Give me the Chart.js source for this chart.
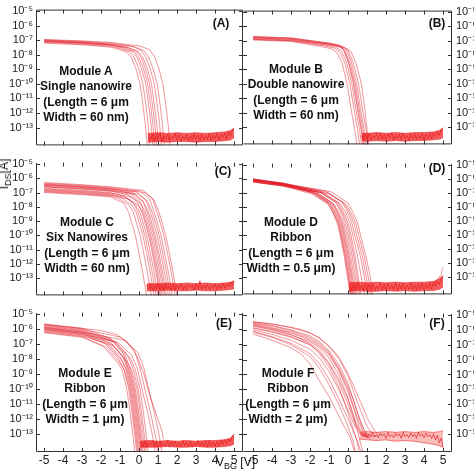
<!DOCTYPE html>
<html><head><meta charset="utf-8">
<script src="https://cdn.jsdelivr.net/npm/chart.js@4.4.1/dist/chart.umd.min.js"></script>
<style>
html,body{margin:0;padding:0;background:#fff;}
#wrap{position:relative;width:474px;height:474px;overflow:hidden;font-family:"Liberation Sans",Arial,sans-serif;color:#111;}
canvas{position:absolute;}
.mod{position:absolute;width:140px;text-align:center;font-weight:bold;font-size:12px;line-height:15.3px;white-space:nowrap;}
.tag{position:absolute;width:30px;text-align:center;font-weight:bold;font-size:12px;line-height:14px;}
.ttl{position:absolute;font-size:12px;line-height:14px;white-space:nowrap;}
.ttl sub{font-size:9px;vertical-align:-3px;line-height:0;}
</style></head><body><div id="wrap">
<canvas id="cA" width="244" height="155" style="left:0;top:0"></canvas>
<canvas id="cB" width="232" height="155" style="left:242px;top:0"></canvas>
<canvas id="cC" width="244" height="152" style="left:0;top:153px"></canvas>
<canvas id="cD" width="232" height="152" style="left:242px;top:153px"></canvas>
<canvas id="cE" width="244" height="171" style="left:0;top:303px"></canvas>
<canvas id="cF" width="232" height="171" style="left:242px;top:303px"></canvas>

<div class="tag" style="left:206px;top:16px">(A)</div>
<div class="tag" style="left:422px;top:16px">(B)</div>
<div class="tag" style="left:208px;top:164px">(C)</div>
<div class="tag" style="left:422px;top:161px">(D)</div>
<div class="tag" style="left:209px;top:316px">(E)</div>
<div class="tag" style="left:422px;top:316px">(F)</div>

<div class="mod" style="left:16px;top:64px">Module A<br>Single nanowire<br>(Length = 6 μm<br>Width = 60 nm)</div>
<div class="mod" style="left:226px;top:62px">Module B<br>Double nanowire<br>(Length = 6 μm<br>Width = 60 nm)</div>
<div class="mod" style="left:17px;top:215px">Module C<br>Six Nanowires<br>(Length = 6 μm<br>Width = 60 nm)</div>
<div class="mod" style="left:221px;top:215px">Module D<br>Ribbon<br>(Length = 6 μm<br>Width = 0.5 μm)</div>
<div class="mod" style="left:15px;top:366px">Module E<br>Ribbon<br>(Length = 6 μm<br>Width = 1 μm)</div>
<div class="mod" style="left:218px;top:366px">Module F<br>Ribbon<br>(Length = 6 μm<br>Width = 2 μm)</div>

<div class="ttl" style="left:4px;top:174px;transform:translate(-50%,-50%) rotate(-90deg);">I<sub>DS</sub>[A]</div>
<div class="ttl" style="left:216px;top:455px;">V<sub>BG</sub> [V]</div>
</div>
<script>
// ---------- data (V in volts, log10 of I_DS in A) ----------
const xTicks = [-5,-4,-3,-2,-1,0,1,2,3,4,5];
const yTickExps = [-5,-6,-7,-8,-9,-10,-11,-12,-13];
const noiseV = [0,0.1,0.2,0.3,0.4,0.5,0.6,0.7,0.8,0.9,1,1.1,1.2,1.3,1.4,1.5,1.6,1.7,1.8,1.9,2,2.1,2.2,2.3,2.4,2.5,2.6,2.7,2.8,2.9,3,3.1,3.2,3.3,3.4,3.5,3.6,3.7,3.8,3.9,4,4.1,4.2,4.3,4.4,4.5,4.6,4.7,4.8,4.9,5];

const curvesA = [
 [[-5,-7.2],[-3,-7.32],[-1.5,-7.48],[-1.15,-7.6],[-0.65,-7.8],[-0.4,-8.2],[-0.17,-8.95],[0.05,-10],[0.2,-11.4],[0.33,-12.8],[0.43,-14.3]],
 [[-5,-7.15],[-3,-7.27],[-1.5,-7.42],[-1,-7.58],[-0.5,-7.8],[-0.25,-8.2],[-0.02,-8.95],[0.2,-10],[0.35,-11.4],[0.48,-12.8],[0.58,-14.3]],
 [[-5,-7.1],[-3,-7.22],[-1.5,-7.36],[-0.85,-7.55],[-0.35,-7.78],[-0.1,-8.2],[0.13,-8.95],[0.35,-10],[0.5,-11.4],[0.63,-12.8],[0.73,-14.3]],
 [[-5,-7.05],[-3,-7.17],[-1.5,-7.32],[-0.75,-7.52],[-0.25,-7.78],[0,-8.2],[0.23,-8.95],[0.45,-10],[0.6,-11.4],[0.73,-12.8],[0.83,-14.3]],
 [[-5,-7.0],[-3,-7.12],[-1.5,-7.27],[-0.65,-7.48],[-0.15,-7.75],[0.1,-8.15],[0.33,-8.95],[0.55,-10],[0.7,-11.4],[0.83,-12.8],[0.93,-14.3]],
 [[-5,-7.1],[-3,-7.2],[-1.5,-7.33],[-0.55,-7.52],[-0.05,-7.78],[0.2,-8.2],[0.43,-8.95],[0.65,-10],[0.8,-11.4],[0.93,-12.8],[1.03,-14.3]],
 [[-5,-6.98],[-3,-7.08],[-1.5,-7.2],[-0.4,-7.4],[0.1,-7.7],[0.35,-8.15],[0.58,-8.95],[0.8,-10],[0.95,-11.4],[1.08,-12.8],[1.18,-14.3]],
 [[-5,-7.05],[-3,-7.15],[-1.5,-7.27],[-0.25,-7.45],[0.25,-7.72],[0.5,-8.15],[0.73,-8.95],[0.95,-10],[1.1,-11.4],[1.23,-12.8],[1.33,-14.3]],
 [[-5,-6.95],[-3,-7.05],[-1.5,-7.15],[0.05,-7.4],[0.55,-7.65],[0.8,-8.1],[1.03,-8.9],[1.25,-10],[1.4,-11.4],[1.53,-12.8],[1.63,-14.3]]
];
const bandA_V  = [0.45,1,1.5,2,2.5,3,3.5,4,4.5,4.8,5];
const bandA_hi = [-13.4,-13.35,-13.4,-13.35,-13.4,-13.35,-13.4,-13.35,-13.3,-13.2,-13.05];
const bandA_lo = [-14.0,-13.95,-14.0,-13.95,-13.95,-14.0,-13.95,-13.95,-13.9,-13.85,-13.7];
const noiseA = [null,null,null,null,null,-13.5,-13.85,-13.45,-13.9,-13.6,-13.8,-13.4,-13.95,-13.55,-13.8,-13.45,-13.9,-13.6,-13.75,-13.4,-13.85,-13.5,-13.95,-13.6,-13.8,-13.45,-13.9,-13.55,-13.85,-13.4,-13.8,-13.5,-13.9,-13.45,-13.85,-13.55,-13.8,-13.4,-13.9,-13.5,-13.75,-13.4,-13.85,-13.45,-13.7,-13.35,-13.8,-13.3,-13.6,-13.2,-13.1];

const curvesB = [
 [[-5,-6.95],[-3,-7.05],[-1.45,-7.4],[-0.9,-7.55],[-0.6,-7.8],[-0.32,-8.55],[-0.05,-10],[0.15,-11.7],[0.35,-13.2],[0.47,-14.3]],
 [[-5,-6.9],[-3,-7.0],[-1.3,-7.35],[-0.75,-7.5],[-0.45,-7.75],[-0.17,-8.55],[0.1,-10],[0.3,-11.7],[0.5,-13.2],[0.62,-14.3]],
 [[-5,-6.85],[-3,-6.95],[-1.2,-7.3],[-0.65,-7.45],[-0.35,-7.7],[-0.07,-8.55],[0.2,-10],[0.4,-11.7],[0.6,-13.2],[0.72,-14.3]],
 [[-5,-6.7],[-3,-6.8],[-1.12,-7.15],[-0.57,-7.3],[-0.27,-7.55],[0.01,-8.5],[0.28,-10],[0.48,-11.7],[0.68,-13.2],[0.8,-14.3]],
 [[-5,-6.75],[-3,-6.85],[-1.08,-7.2],[-0.53,-7.35],[-0.23,-7.6],[0.05,-8.55],[0.32,-10],[0.52,-11.7],[0.72,-13.2],[0.84,-14.3]],
 [[-5,-6.8],[-3,-6.9],[-1.02,-7.25],[-0.47,-7.4],[-0.17,-7.65],[0.11,-8.55],[0.38,-10],[0.58,-11.7],[0.78,-13.2],[0.9,-14.3]],
 [[-5,-6.72],[-3,-6.82],[-0.95,-7.17],[-0.4,-7.32],[-0.1,-7.57],[0.18,-8.5],[0.45,-10],[0.65,-11.7],[0.85,-13.2],[0.97,-14.3]],
 [[-5,-6.8],[-3,-6.9],[-0.85,-7.25],[-0.3,-7.4],[0,-7.65],[0.28,-8.55],[0.55,-10],[0.75,-11.7],[0.95,-13.2],[1.07,-14.3]],
 [[-5,-6.9],[-3,-7.0],[-0.7,-7.35],[-0.15,-7.5],[0.15,-7.75],[0.43,-8.6],[0.7,-10],[0.88,-11.7],[1.0,-13.2],[1.08,-14.3]]
];
const bandB_V  = [0.72,1,1.5,2,2.5,3,3.5,4,4.5,4.8,5];
const bandB_hi = [-13.45,-13.45,-13.4,-13.45,-13.4,-13.45,-13.4,-13.4,-13.35,-13.25,-13.1];
const bandB_lo = [-13.95,-14.0,-13.95,-14.0,-13.95,-14.0,-13.95,-13.95,-13.9,-13.85,-13.75];
const noiseB = [null,null,null,null,null,null,null,-13.6,-13.9,-13.5,-13.85,-13.45,-13.95,-13.6,-13.8,-13.5,-13.9,-13.45,-13.85,-13.55,-13.9,-13.5,-13.8,-13.4,-13.95,-13.55,-13.85,-13.5,-13.9,-13.45,-13.8,-13.6,-13.9,-13.5,-13.85,-13.45,-13.9,-13.55,-13.8,-13.45,-13.9,-13.5,-13.8,-13.4,-13.85,-13.4,-13.7,-13.3,-13.6,-13.2,-13.05];

const curvesC = [
 [[-5,-7.0],[-3,-7.15],[-1.5,-7.3],[-1.3,-7.45],[-0.8,-7.75],[-0.55,-8.4],[-0.35,-9.3],[-0.2,-10],[0,-11.3],[0.2,-12.7],[0.4,-14.3]],
 [[-5,-6.95],[-3,-7.1],[-1.5,-7.25],[-1.05,-7.45],[-0.55,-7.85],[-0.3,-8.4],[-0.1,-9.3],[0.05,-10],[0.25,-11.3],[0.45,-12.7],[0.65,-14.3]],
 [[-5,-6.85],[-3,-7.0],[-1.5,-7.15],[-0.9,-7.4],[-0.4,-7.85],[-0.15,-8.4],[0.05,-9.3],[0.2,-10],[0.4,-11.3],[0.6,-12.7],[0.8,-14.3]],
 [[-5,-6.7],[-3,-6.85],[-1.5,-7.0],[-0.8,-7.25],[-0.3,-7.75],[-0.05,-8.4],[0.15,-9.3],[0.3,-10],[0.5,-11.3],[0.7,-12.7],[0.9,-14.3]],
 [[-5,-6.8],[-3,-6.95],[-1.5,-7.1],[-0.7,-7.35],[-0.2,-7.85],[0.05,-8.4],[0.25,-9.3],[0.4,-10],[0.6,-11.3],[0.8,-12.7],[1.0,-14.3]],
 [[-5,-6.6],[-3,-6.75],[-1.5,-6.9],[-0.6,-7.15],[-0.1,-7.65],[0.15,-8.4],[0.35,-9.3],[0.5,-10],[0.7,-11.3],[0.9,-12.7],[1.1,-14.3]],
 [[-5,-6.9],[-3,-7.05],[-1.5,-7.2],[-0.55,-7.45],[-0.05,-7.9],[0.2,-8.4],[0.4,-9.3],[0.55,-10],[0.75,-11.3],[0.95,-12.7],[1.15,-14.3]],
 [[-5,-6.5],[-3,-6.65],[-1.5,-6.8],[-0.48,-7.05],[0.02,-7.6],[0.27,-8.4],[0.47,-9.3],[0.62,-10],[0.82,-11.3],[1.02,-12.7],[1.22,-14.3]],
 [[-5,-6.75],[-3,-6.9],[-1.5,-7.05],[-0.4,-7.3],[0.1,-7.8],[0.35,-8.4],[0.55,-9.3],[0.7,-10],[0.9,-11.3],[1.1,-12.7],[1.3,-14.3]],
 [[-5,-6.45],[-3,-6.6],[-1.5,-6.75],[-0.32,-7.0],[0.18,-7.55],[0.43,-8.4],[0.63,-9.3],[0.78,-10],[0.98,-11.3],[1.18,-12.7],[1.38,-14.3]],
 [[-5,-6.6],[-3,-6.75],[-1.5,-6.9],[-0.25,-7.15],[0.25,-7.7],[0.5,-8.4],[0.7,-9.3],[0.85,-10],[1.05,-11.3],[1.25,-12.7],[1.45,-14.3]],
 [[-5,-6.4],[-3,-6.55],[-1.5,-6.7],[-0.15,-6.95],[0.35,-7.5],[0.6,-8.4],[0.8,-9.3],[0.95,-10],[1.15,-11.3],[1.35,-12.7],[1.55,-14.3]],
 [[-5,-6.55],[-3,-6.7],[-1.5,-6.85],[-0.05,-7.1],[0.45,-7.65],[0.7,-8.4],[0.9,-9.3],[1.05,-10],[1.25,-11.3],[1.45,-12.7],[1.65,-14.3]],
 [[-5,-6.35],[-3,-6.5],[-1.5,-6.65],[0.05,-6.9],[0.55,-7.45],[0.8,-8.4],[1.0,-9.3],[1.15,-10],[1.35,-11.3],[1.55,-12.7],[1.75,-14.3]],
 [[-5,-6.3],[-3,-6.45],[-1.5,-6.6],[0.2,-6.85],[0.7,-7.4],[0.95,-8.4],[1.15,-9.3],[1.3,-10],[1.5,-11.3],[1.7,-12.7],[1.9,-14.3]],
 [[-5,-6.45],[-3,-6.6],[-1.5,-6.75],[0.3,-7.0],[0.8,-7.55],[1.05,-8.4],[1.25,-9.3],[1.4,-10],[1.6,-11.3],[1.8,-12.7],[2.0,-14.3]]
];
const bandC_V  = [0.4,1,1.5,2,2.5,3,3.5,4,4.5,4.8,5];
const bandC_hi = [-13.4,-13.4,-13.35,-13.4,-13.35,-13.4,-13.35,-13.4,-13.35,-13.3,-13.2];
const bandC_lo = [-13.9,-13.9,-13.85,-13.9,-13.9,-13.85,-13.9,-13.9,-13.85,-13.8,-13.75];
const noiseC = [null,null,null,null,-13.5,-13.8,-13.4,-13.85,-13.55,-13.75,-13.35,-13.8,-13.5,-13.85,-13.45,-13.75,-13.55,-13.85,-13.4,-13.8,-13.5,-13.75,-13.4,-13.85,-13.55,-13.8,-13.45,-13.7,-13.5,-13.85,-13.4,-13.75,-13.2,-13.8,-13.5,-13.75,-13.45,-13.8,-13.55,-13.7,-13.4,-13.8,-13.45,-13.75,-13.35,-13.7,-13.4,-13.6,-13.3,-13.5,-13.2];

const curvesD = [
 [[-5,-6.05],[-3.4,-6.35],[-1.97,-6.9],[-1.08,-7.72],[-0.82,-8.35],[-0.55,-9.2],[-0.42,-10],[-0.2,-11.5],[0.06,-13.8],[0.13,-14.3]],
 [[-5,-6.1],[-3.4,-6.4],[-1.9,-6.95],[-1.01,-7.72],[-0.75,-8.35],[-0.48,-9.2],[-0.35,-10],[-0.13,-11.5],[0.13,-13.8],[0.2,-14.3]],
 [[-5,-6.05],[-3.4,-6.36],[-1.85,-6.9],[-0.96,-7.72],[-0.7,-8.35],[-0.43,-9.17],[-0.3,-10],[-0.08,-11.47],[0.18,-13.8],[0.25,-14.3]],
 [[-5,-6.15],[-3.4,-6.45],[-1.8,-7.0],[-0.91,-7.75],[-0.65,-8.35],[-0.38,-9.2],[-0.25,-10],[-0.03,-11.5],[0.23,-13.8],[0.3,-14.3]],
 [[-5,-6.0],[-3.4,-6.3],[-1.75,-6.85],[-0.86,-7.68],[-0.6,-8.3],[-0.33,-9.2],[-0.2,-10],[0.02,-11.5],[0.28,-13.8],[0.35,-14.3]],
 [[-5,-6.1],[-3.4,-6.4],[-1.7,-6.95],[-0.81,-7.72],[-0.55,-8.35],[-0.28,-9.2],[-0.15,-10],[0.07,-11.5],[0.33,-13.8],[0.4,-14.3]],
 [[-5,-6.2],[-3.4,-6.5],[-1.63,-7.05],[-0.74,-7.8],[-0.48,-8.4],[-0.21,-9.2],[-0.08,-10],[0.14,-11.5],[0.4,-13.8],[0.47,-14.3]],
 [[-5,-6.0],[-3.4,-6.3],[-1.55,-6.85],[-0.66,-7.65],[-0.4,-8.3],[-0.13,-9.2],[0,-10],[0.22,-11.5],[0.48,-13.8],[0.55,-14.3]],
 [[-5,-6.12],[-3.4,-6.42],[-1.47,-6.97],[-0.58,-7.72],[-0.32,-8.35],[-0.05,-9.2],[0.08,-10],[0.3,-11.5],[0.56,-13.8],[0.63,-14.3]],
 [[-5,-6.05],[-3.4,-6.35],[-1.4,-6.9],[-0.51,-7.7],[-0.25,-8.35],[0.02,-9.2],[0.15,-10],[0.37,-11.5],[0.63,-13.8],[0.7,-14.3]],
 [[-5,-6.15],[-3.4,-6.45],[-1.3,-7.0],[-0.41,-7.75],[-0.15,-8.35],[0.12,-9.2],[0.25,-10],[0.5,-11.5],[0.8,-13.8],[0.88,-14.3]],
 [[-5,-6.0],[-3.4,-6.3],[-1.2,-6.85],[-0.31,-7.65],[-0.05,-8.3],[0.22,-9.2],[0.35,-10],[0.65,-11.5],[0.97,-13.8],[1.05,-14.3]],
 [[-5,-6.1],[-3.4,-6.4],[-1.1,-6.95],[-0.21,-7.72],[0.05,-8.35],[0.32,-9.2],[0.45,-10],[0.75,-11.5],[1.07,-13.8],[1.15,-14.3]],
 [[-5,-6.2],[-3.4,-6.5],[-1.0,-7.05],[-0.11,-7.8],[0.15,-8.4],[0.42,-9.2],[0.55,-10],[0.85,-11.5],[1.17,-13.8],[1.25,-14.3]],
 [[-5,-6.05],[-3.4,-6.35],[-0.9,-6.9],[-0.01,-7.7],[0.25,-8.35],[0.52,-9.2],[0.65,-10],[0.92,-11.4],[1.18,-13.0],[1.3,-14.3]],
 [[-5,-6.22],[-3.4,-6.5],[-1.93,-7.05],[-1.04,-7.8],[-0.78,-8.4],[-0.51,-9.2],[-0.38,-10],[-0.16,-11.5],[0.1,-13.8],[0.17,-14.3]],
 [[4.4,-13.6],[4.7,-13.2],[4.9,-12.8],[5,-12.3]]
];
const bandD_V  = [0.05,0.5,1,1.5,2,2.5,3,3.5,4,4.5,4.8,5];
const bandD_hi = [-13.4,-13.35,-13.4,-13.35,-13.4,-13.35,-13.4,-13.35,-13.35,-13.3,-13.1,-12.9];
const bandD_lo = [-14.0,-13.95,-14.0,-14.0,-13.95,-14.0,-13.95,-14.0,-13.95,-13.95,-13.85,-13.7];
const noiseD = [null,-13.6,-13.95,-13.5,-13.9,-13.45,-13.85,-13.55,-13.95,-13.4,-13.9,-13.5,-13.85,-13.45,-13.95,-13.6,-13.85,-13.4,-13.9,-13.5,-13.95,-13.45,-13.85,-13.55,-13.9,-13.4,-13.95,-13.5,-13.85,-13.45,-13.9,-13.55,-13.85,-13.4,-13.9,-13.5,-13.95,-13.45,-13.85,-13.4,-13.9,-13.5,-13.8,-13.4,-13.85,-13.35,-13.7,-13.3,-13.5,-13.1,-12.9];

const curvesE = [
 [[-5,-6.2],[-3,-6.5],[-1.9,-7.15],[-1.2,-8.15],[-0.9,-8.7],[-0.65,-10],[-0.47,-11.6],[-0.3,-13.4],[-0.23,-14.3]],
 [[-5,-6.0],[-3,-6.3],[-1.8,-6.95],[-1.1,-7.95],[-0.8,-8.7],[-0.55,-10],[-0.37,-11.6],[-0.2,-13.4],[-0.13,-14.3]],
 [[-5,-6.25],[-3,-6.55],[-1.75,-7.2],[-1.05,-8.2],[-0.75,-8.8],[-0.5,-10],[-0.32,-11.6],[-0.15,-13.4],[-0.08,-14.3]],
 [[-5,-5.9],[-3,-6.2],[-1.7,-6.85],[-1.0,-7.85],[-0.7,-8.7],[-0.45,-10],[-0.27,-11.6],[-0.1,-13.4],[-0.03,-14.3]],
 [[-5,-6.1],[-3,-6.4],[-1.65,-7.05],[-0.95,-8.05],[-0.65,-8.7],[-0.4,-10],[-0.22,-11.6],[-0.05,-13.4],[0.02,-14.3]],
 [[-5,-5.8],[-3,-6.1],[-1.6,-6.75],[-0.9,-7.75],[-0.6,-8.7],[-0.35,-10],[-0.17,-11.6],[0,-13.4],[0.07,-14.3]],
 [[-5,-5.65],[-3,-5.95],[-1.55,-6.6],[-0.85,-7.6],[-0.55,-8.7],[-0.3,-10],[-0.12,-11.6],[0.05,-13.4],[0.12,-14.3]],
 [[-5,-6.0],[-3,-6.3],[-1.5,-6.95],[-0.8,-7.95],[-0.5,-8.75],[-0.25,-10],[-0.07,-11.6],[0.1,-13.4],[0.17,-14.3]],
 [[-5,-5.75],[-3,-6.05],[-1.45,-6.7],[-0.75,-7.7],[-0.45,-8.7],[-0.2,-10],[-0.02,-11.6],[0.15,-13.4],[0.22,-14.3]],
 [[-5,-6.15],[-3,-6.45],[-1.37,-7.1],[-0.67,-8.1],[-0.37,-8.8],[-0.12,-10],[0.06,-11.6],[0.23,-13.4],[0.3,-14.3]],
 [[-5,-5.85],[-3,-6.15],[-1.3,-6.8],[-0.6,-7.8],[-0.3,-8.7],[-0.05,-10],[0.13,-11.6],[0.3,-13.4],[0.37,-14.3]],
 [[-5,-5.95],[-3,-6.25],[-1.2,-6.9],[-0.5,-7.9],[-0.2,-8.7],[0.05,-10],[0.23,-11.6],[0.4,-13.4],[0.47,-14.3]],
 [[-5,-6.05],[-3,-6.35],[-1.1,-6.9],[-0.4,-7.75],[-0.1,-8.6],[0.15,-10],[0.45,-11.6],[0.75,-13.4],[0.85,-14.3]],
 [[-5,-5.7],[-3,-6.0],[-0.95,-6.55],[-0.25,-7.4],[0.05,-8.6],[0.3,-10],[0.6,-11.6],[0.9,-13.4],[1.0,-14.3]],
 [[-5,-5.9],[-3,-6.2],[-0.75,-6.75],[-0.05,-7.6],[0.25,-8.6],[0.5,-10],[0.8,-11.6],[1.1,-13.4],[1.2,-14.3]],
 [[-5,-5.7],[-3,-5.95],[-2,-6.1],[-1.17,-6.37],[-0.6,-6.9],[-0.12,-7.8],[0.25,-9.0],[0.58,-10.5],[0.9,-11.7],[1.19,-12.75],[1.28,-13.4]]
];
const bandE_V  = [0.05,0.5,1,1.5,2,2.5,3,3.5,4,4.5,4.8,5];
const bandE_hi = [-13.5,-13.45,-13.5,-13.45,-13.5,-13.45,-13.5,-13.45,-13.45,-13.4,-13.3,-13.05];
const bandE_lo = [-13.9,-13.9,-13.9,-13.85,-13.9,-13.9,-13.85,-13.9,-13.9,-13.85,-13.8,-13.7];
const noiseE = [null,-13.55,-13.85,-13.5,-13.9,-13.6,-13.8,-13.45,-13.85,-13.55,-13.9,-13.5,-13.8,-13.6,-13.85,-13.45,-13.9,-13.55,-13.8,-13.5,-13.85,-13.6,-13.9,-13.45,-13.8,-13.55,-13.85,-13.5,-13.9,-13.6,-13.8,-13.45,-13.85,-13.55,-13.8,-13.5,-13.9,-13.45,-13.8,-13.55,-13.85,-13.5,-13.8,-13.45,-13.75,-13.4,-13.7,-13.35,-13.55,-13.2,-13.05];

const curvesF = [
 [[-5,-6.27],[-4,-6.7],[-3,-7.2],[-2.5,-7.6],[-2,-8.3],[-1.5,-9.45],[-1,-10.5],[-0.6,-11.5],[-0.2,-12.5],[0.12,-13.25],[0.35,-14.3]],
 [[-5,-6.1],[-4,-6.45],[-3,-6.9],[-2,-7.6],[-1.5,-8.3],[-1,-9.3],[-0.5,-10.6],[0,-12.0],[0.3,-12.9],[0.5,-13.5],[0.7,-14.3]],
 [[-5,-6.0],[-4,-6.3],[-3,-6.7],[-2,-7.3],[-1.5,-7.9],[-1,-8.8],[-0.5,-10.0],[0,-11.4],[0.4,-12.6],[0.7,-13.1],[1,-13.2],[1.5,-13.15]],
 [[-5,-5.9],[-4,-6.15],[-3,-6.5],[-2,-7.0],[-1.5,-7.5],[-1,-8.3],[-0.5,-9.5],[0,-11.0],[0.4,-12.4],[0.7,-13.0],[1,-13.1]],
 [[-5,-5.75],[-4,-6.0],[-3,-6.35],[-2,-6.8],[-1.5,-7.2],[-1,-7.9],[-0.5,-9.0],[0,-10.6],[0.4,-12.2],[0.7,-13.0],[1.0,-13.1]],
 [[-5,-5.6],[-4,-5.85],[-3,-6.15],[-2,-6.6],[-1.5,-7.0],[-1,-7.6],[-0.5,-8.6],[0,-10.0],[0.4,-11.6],[0.8,-12.9],[1.0,-13.1]],
 [[-5,-5.5],[-4,-5.7],[-3,-6.0],[-2,-6.4],[-1.5,-6.8],[-1,-7.4],[-0.5,-8.3],[0,-9.6],[0.4,-11.2],[0.8,-12.7],[1.1,-13.1]],
 [[-5,-5.45],[-4,-5.6],[-3,-5.85],[-2,-6.2],[-1.5,-6.55],[-1,-7.1],[-0.5,-7.9],[0,-9.1],[0.5,-10.9],[1,-12.5],[1.3,-13.05]],
 [[-5,-5.45],[-4,-5.6],[-3,-5.82],[-2.5,-5.96],[-2,-6.2],[-1.5,-6.55],[-0.91,-7.2],[-0.5,-7.8],[-0.04,-8.84],[0.3,-9.8],[0.67,-10.9],[1,-11.9],[1.37,-12.75],[1.6,-13.05]],
 [[-5,-5.7],[-4,-5.95],[-3,-6.3],[-2,-6.9],[-1.5,-7.4],[-1,-8.2],[-0.5,-9.3],[0,-10.7],[0.3,-11.9],[0.5,-12.8],[0.65,-13.6],[0.8,-14.3]],
 [[-5,-5.55],[-4,-5.75],[-3,-6.05],[-2,-6.5],[-1.5,-6.9],[-1,-7.5],[-0.5,-8.5],[0,-9.8],[0.3,-10.8],[0.6,-12.0],[0.9,-12.9],[1.1,-13.2]],
 [[-5,-5.85],[-4,-6.1],[-3,-6.45],[-2,-7.0],[-1.5,-7.6],[-1,-8.5],[-0.5,-9.8],[-0.1,-11.2],[0.2,-12.4],[0.45,-13.4],[0.6,-14.3]],
 [[-5,-6.15],[-4,-6.5],[-3,-7.0],[-2,-7.8],[-1.5,-8.6],[-1,-9.7],[-0.5,-11.0],[-0.1,-12.2],[0.25,-13.4],[0.4,-14.3]],
 [[-5,-5.65],[-4,-5.9],[-3,-6.2],[-2,-6.7],[-1.5,-7.1],[-1,-7.7],[-0.5,-8.7],[0,-10.2],[0.3,-11.3],[0.6,-12.6],[0.9,-13.2],[1.2,-13.3]]
];
const bandF_V  = [0.6,1,1.5,2,2.5,3,3.5,4,4.5,4.8,5];
const bandF_hi = [-12.9,-12.85,-12.9,-12.85,-12.9,-12.85,-12.9,-12.85,-12.9,-12.85,-12.8];
const bandF_lo = [-13.35,-13.4,-13.45,-13.4,-13.5,-13.45,-13.5,-13.6,-13.7,-13.8,-13.9];
const noiseF = [null,null,null,null,null,null,null,-13.0,-13.2,-12.95,-13.25,-13.0,-13.15,-12.9,-13.2,-13.05,-13.25,-12.95,-13.15,-13.0,-13.3,-12.9,-13.2,-13.05,-13.25,-12.95,-13.15,-13.0,-13.3,-12.9,-13.2,-13.05,-13.25,-12.95,-13.2,-13.0,-13.3,-12.9,-13.15,-13.0,-13.25,-12.95,-13.2,-13.05,-13.3,-13.0,-13.4,-13.1,-13.6,-13.3,-13.9];

// ---------- rendering ----------
const FONT = '"Liberation Sans", Arial, sans-serif';
const Y_MIN_EXP = -14.2, Y_MAX_EXP = -4.9;
const SUP = {'-':'⁻','0':'⁰','1':'¹','2':'²','3':'³','4':'⁴','5':'⁵','6':'⁶','7':'⁷','8':'⁸','9':'⁹'};
const supLabel = v => '10' + String(Math.round(Math.log10(v))).split('').map(c => SUP[c]).join('');
const toPts = arr => arr.map(p => ({x: p[0], y: Math.pow(10, p[1])}));
const zipPts = (xs, ys) => xs.map((x, i) => ys[i] == null ? null : {x: x, y: Math.pow(10, ys[i])}).filter(Boolean);

function boxPlugin(cfg) {
  return {
    id: 'box',
    afterDraw(chart) {
      const ctx = chart.ctx, a = chart.chartArea, xs = chart.scales.x, ys = chart.scales.y;
      ctx.save();
      ctx.strokeStyle = '#333'; ctx.lineWidth = 1;
      ctx.beginPath();
      const L = a.left + 0.5, R = a.right - 0.5, T = a.top + 0.5, B = a.bottom - 0.5;
      ctx.moveTo(L, B); ctx.lineTo(R, B); ctx.moveTo(R, T); ctx.lineTo(R, B);
      if (cfg.drawTop) { ctx.moveTo(L, T); ctx.lineTo(R, T); }
      if (cfg.side === 'left') { ctx.moveTo(L, T); ctx.lineTo(L, B); }
      xTicks.forEach(v => {
        const px = Math.round(xs.getPixelForValue(v)) + 0.5;
        ctx.moveTo(px, a.bottom); ctx.lineTo(px, a.bottom - 4);
        ctx.moveTo(px, a.top); ctx.lineTo(px, a.top + 4);
      });
      yTickExps.forEach(e => {
        const py = Math.round(ys.getPixelForValue(Math.pow(10, e))) + 0.5;
        ctx.moveTo(a.left, py); ctx.lineTo(a.left + 4, py);
        ctx.moveTo(a.right, py); ctx.lineTo(a.right - 4, py);
      });
      ctx.stroke();
      ctx.restore();
    }
  };
}

function build(id, cfg) {
  const ds = [];
  ds.push({data: zipPts(cfg.bandV, cfg.bandLo), borderColor: 'rgba(235,25,25,0.8)', borderWidth: 0.7, fill: false});
  ds.push({data: zipPts(cfg.bandV, cfg.bandHi), borderColor: 'rgba(235,25,25,0.8)', borderWidth: 0.7, fill: '-1', backgroundColor: cfg.bandFill});
  ds.push({data: zipPts(noiseV, cfg.noise), borderColor: 'rgba(215,0,0,0.85)', borderWidth: 0.8, fill: false});
  cfg.curves.forEach(c => ds.push({data: toPts(c), borderColor: 'rgba(225,20,30,0.5)', borderWidth: 0.9, fill: false}));
  new Chart(document.getElementById(id), {
    type: 'line',
    data: {datasets: ds},
    options: {
      responsive: false, animation: false, devicePixelRatio: 1,
      layout: {padding: cfg.pad},
      elements: {point: {radius: 0}, line: {tension: 0}},
      plugins: {legend: {display: false}, tooltip: {enabled: false}},
      scales: {
        x: {
          type: 'linear', min: cfg.xMin, max: 5.47, display: cfg.showX,
          grid: {display: false, drawTicks: false, tickLength: 0}, border: {display: false},
          afterBuildTicks: s => { s.ticks = xTicks.map(v => ({value: v})); },
          afterFit: s => { if (cfg.showX) s.height = 22; },
          ticks: {font: {size: 12, family: FONT}, color: '#222', padding: 1, maxRotation: 0, autoSkip: false, callback: v => String(v)}
        },
        y: {
          type: 'logarithmic', position: cfg.side, min: Math.pow(10, Y_MIN_EXP), max: Math.pow(10, Y_MAX_EXP),
          grid: {display: false, drawTicks: false, tickLength: 0}, border: {display: false},
          afterBuildTicks: s => { s.ticks = yTickExps.map(e => ({value: Math.pow(10, e)})); },
          afterFit: s => { s.width = cfg.side === 'left' ? 36 : 22; },
          ticks: {font: {size: 11, family: FONT}, color: '#222', padding: cfg.side === 'left' ? 3 : 4, autoSkip: false, callback: v => supLabel(v)}
        }
      }
    },
    plugins: [boxPlugin(cfg)]
  });
}

const SOLID = 'rgba(238,30,30,0.72)';
build('cA', {curves: curvesA, bandV: bandA_V, bandHi: bandA_hi, bandLo: bandA_lo, noise: noiseA, bandFill: SOLID, side: 'left', xMin: -5.43, showX: false, drawTop: true, pad: {left: 0, right: 1, top: 5, bottom: 1}});
build('cB', {curves: curvesB, bandV: bandB_V, bandHi: bandB_hi, bandLo: bandB_lo, noise: noiseB, bandFill: SOLID, side: 'right', xMin: -5.53, showX: false, drawTop: true, pad: {left: 1, right: 0, top: 5, bottom: 1}});
build('cC', {curves: curvesC, bandV: bandC_V, bandHi: bandC_hi, bandLo: bandC_lo, noise: noiseC, bandFill: SOLID, side: 'left', xMin: -5.43, showX: false, drawTop: false, pad: {left: 0, right: 1, top: 1, bottom: 1}});
build('cD', {curves: curvesD, bandV: bandD_V, bandHi: bandD_hi, bandLo: bandD_lo, noise: noiseD, bandFill: SOLID, side: 'right', xMin: -5.53, showX: false, drawTop: false, pad: {left: 1, right: 0, top: 1, bottom: 1}});
build('cE', {curves: curvesE, bandV: bandE_V, bandHi: bandE_hi, bandLo: bandE_lo, noise: noiseE, bandFill: SOLID, side: 'left', xMin: -5.43, showX: true, drawTop: false, pad: {left: 0, right: 1, top: 1, bottom: 0}});
build('cF', {curves: curvesF, bandV: bandF_V, bandHi: bandF_hi, bandLo: bandF_lo, noise: noiseF, bandFill: 'rgba(240,60,60,0.35)', side: 'right', xMin: -5.53, showX: true, drawTop: false, pad: {left: 1, right: 0, top: 1, bottom: 0}});
</script>
</body></html>
